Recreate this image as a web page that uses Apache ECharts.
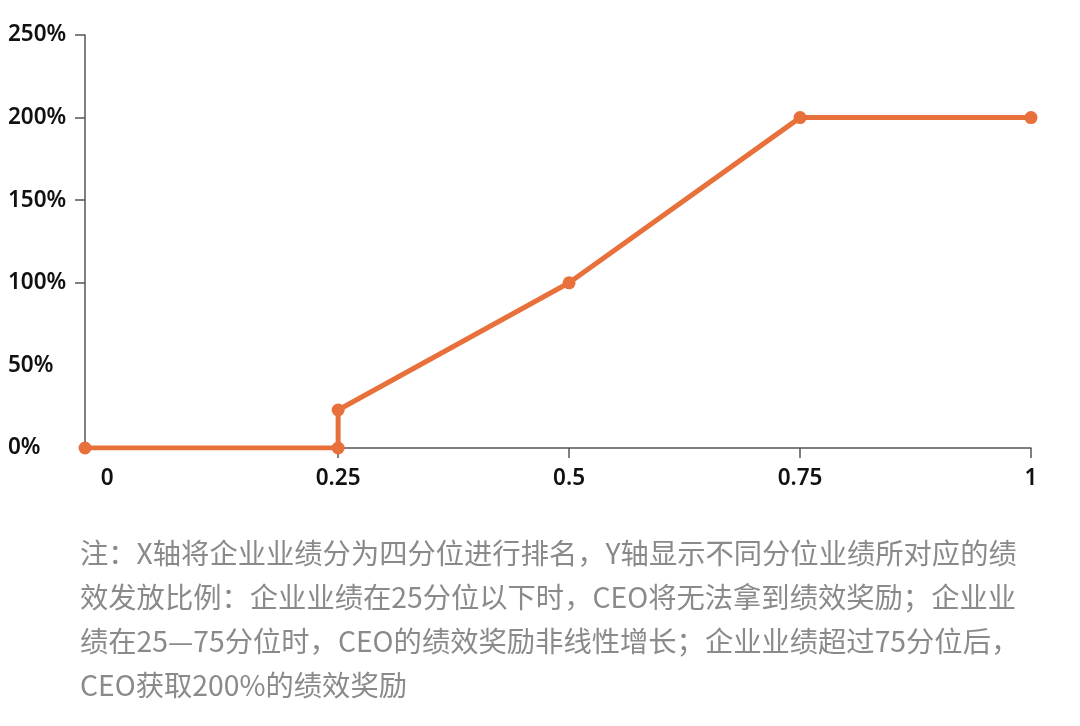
<!DOCTYPE html>
<html>
<head>
<meta charset="utf-8">
<script src="https://cdn.jsdelivr.net/npm/echarts@6/dist/echarts.min.js"></script>
<style>
html,body{margin:0;padding:0;background:#fff;}
#c{width:1080px;height:726px;}
</style>
</head>
<body>
<div id="c"></div>
<script>
// ---- data ----
const X_VALUES = [-0.024, 0.25, 0.25, 0.5, 0.75, 1];   // quantile position (first point sits at axis start)
const Y_VALUES = [0, 0, 23, 100, 200, 200];             // bonus payout, %
const X_TICKS = [0.25, 0.5, 0.75, 1];
const X_LABELS = [0, 0.25, 0.5, 0.75, 1];
const Y_TICKS = [100, 150, 200, 250];
const Y_LABELS = [0, 50, 100, 150, 200, 250];
const X_MIN = -0.024, X_MAX = 1;
const Y_MIN = 0, Y_MAX = 250, Y_STEP = 50;
const NOTE_LINES = [
  '注：X轴将企业业绩分为四分位进行排名，Y轴显示不同分位业绩所对应的绩',
  '效发放比例：企业业绩在25分位以下时，CEO将无法拿到绩效奖励；企业业',
  '绩在25—75分位时，CEO的绩效奖励非线性增长；企业业绩超过75分位后，',
  'CEO获取200%的绩效奖励'
];

const ORANGE = '#E8703A';
const AXIS = '#555555';
const labelFont = { fontFamily: 'Noto Sans', fontSize: 22.5, fontWeight: 600, color: '#111111' };

const chart = echarts.init(document.getElementById('c'), null, { renderer: 'canvas' });

const graphic = NOTE_LINES.map((t, i) => ({
  type: 'text',
  left: 80,
  top: 539 + i * 44,
  style: {
    text: t,
    fill: '#8a8a8a',
    font: '28.3px "Noto Sans CJK SC"'
  }
}));

chart.setOption({
  animation: false,
  backgroundColor: '#ffffff',
  grid: { left: 85, right: 49, top: 35, bottom: 278, containLabel: false },
  xAxis: {
    type: 'value',
    min: X_MIN, max: X_MAX,
    axisLine: { show: true, onZero: false, lineStyle: { color: AXIS, width: 1.5 } },
    axisTick: { show: true, customValues: X_TICKS, length: 10, lineStyle: { color: AXIS, width: 1.5 } },
    axisLabel: Object.assign({ customValues: X_LABELS, margin: 19, formatter: v => String(v) }, labelFont),
    splitLine: { show: false }
  },
  yAxis: {
    type: 'value',
    min: Y_MIN, max: Y_MAX, interval: Y_STEP,
    axisLine: { show: true, onZero: false, lineStyle: { color: AXIS, width: 1.5 } },
    axisTick: { show: true, customValues: Y_TICKS, length: 10, lineStyle: { color: AXIS, width: 1.5 } },
    axisLabel: Object.assign({ customValues: Y_LABELS, margin: 77, align: 'left', padding: [4, 0, 0, 0], formatter: v => v + '%' }, labelFont),
    splitLine: { show: false }
  },
  series: [{
    type: 'line',
    data: X_VALUES.map((x, i) => [x, Y_VALUES[i]]),
    symbol: 'circle',
    symbolSize: 13,
    showSymbol: true,
    lineStyle: { color: ORANGE, width: 5 },
    itemStyle: { color: ORANGE },
    z: 5
  }],
  graphic: graphic
});
</script>
</body>
</html>
